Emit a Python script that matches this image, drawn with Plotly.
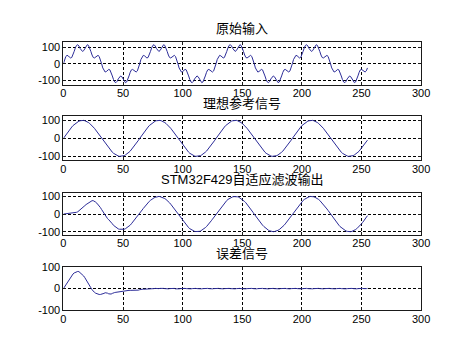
import plotly.graph_objects as go

# ---------------- data ----------------
titles = ["原始输入", "理想参考信号", "STM32F429自适应滤波输出", "误差信号"]
x_ticks = [0, 50, 100, 150, 200, 250, 300]
y_ticks = [-100, 0, 100]

original_input = [
    0, 26, 44, 51, 48, 40, 35, 38, 53, 75, 97, 112, 116, 108, 93, 80, 75,
    80, 93, 108, 116, 112, 97, 75, 53, 38, 35, 40, 48, 51, 44, 26,
    0, -26, -44, -51, -48, -40, -35, -38, -53, -75, -97, -112, -116, -108, -93, -80, -75,
    -80, -93, -108, -116, -112, -97, -75, -53, -38, -35, -40, -48, -51, -44, -26,
    0, 26, 44, 51, 48, 40, 35, 38, 53, 75, 97, 112, 116, 108, 93, 80, 75,
    80, 93, 108, 116, 112, 97, 75, 53, 38, 35, 40, 48, 51, 44, 26,
    0, -26, -44, -51, -48, -40, -35, -38, -53, -75, -97, -112, -116, -108, -93, -80, -75,
    -80, -93, -108, -116, -112, -97, -75, -53, -38, -35, -40, -48, -51, -44, -26,
    0, 26, 44, 51, 48, 40, 35, 38, 53, 75, 97, 112, 116, 108, 93, 80, 75,
    80, 93, 108, 116, 112, 97, 75, 53, 38, 35, 40, 48, 51, 44, 26,
    0, -26, -44, -51, -48, -40, -35, -38, -53, -75, -97, -112, -116, -108, -93, -80, -75,
    -80, -93, -108, -116, -112, -97, -75, -53, -38, -35, -40, -48, -51, -44, -26,
    0, 26, 44, 51, 48, 40, 35, 38, 53, 75, 97, 112, 116, 108, 93, 80, 75,
    80, 93, 108, 116, 112, 97, 75, 53, 38, 35, 40, 48, 51, 44, 26,
    0, -26, -44, -51, -48, -40, -35, -38, -53, -75, -97, -112, -116, -108, -93, -80, -75,
    -80, -93, -108, -116, -112, -97, -75, -53, -38, -35, -40, -48, -51, -44, -26,
]

ideal_reference = [
    0, 10, 20, 29, 38, 47, 56, 63, 71, 77, 83, 88, 92, 96, 98, 100,
    100, 100, 98, 96, 92, 88, 83, 77, 71, 63, 56, 47, 38, 29, 20, 10,
    0, -10, -20, -29, -38, -47, -56, -63, -71, -77, -83, -88, -92, -96, -98, -100,
    -100, -100, -98, -96, -92, -88, -83, -77, -71, -63, -56, -47, -38, -29, -20, -10,
    0, 10, 20, 29, 38, 47, 56, 63, 71, 77, 83, 88, 92, 96, 98, 100,
    100, 100, 98, 96, 92, 88, 83, 77, 71, 63, 56, 47, 38, 29, 20, 10,
    0, -10, -20, -29, -38, -47, -56, -63, -71, -77, -83, -88, -92, -96, -98, -100,
    -100, -100, -98, -96, -92, -88, -83, -77, -71, -63, -56, -47, -38, -29, -20, -10,
    0, 10, 20, 29, 38, 47, 56, 63, 71, 77, 83, 88, 92, 96, 98, 100,
    100, 100, 98, 96, 92, 88, 83, 77, 71, 63, 56, 47, 38, 29, 20, 10,
    0, -10, -20, -29, -38, -47, -56, -63, -71, -77, -83, -88, -92, -96, -98, -100,
    -100, -100, -98, -96, -92, -88, -83, -77, -71, -63, -56, -47, -38, -29, -20, -10,
    0, 10, 20, 29, 38, 47, 56, 63, 71, 77, 83, 88, 92, 96, 98, 100,
    100, 100, 98, 96, 92, 88, 83, 77, 71, 63, 56, 47, 38, 29, 20, 10,
    0, -10, -20, -29, -38, -47, -56, -63, -71, -77, -83, -88, -92, -96, -98, -100,
    -100, -100, -98, -96, -92, -88, -83, -77, -71, -63, -56, -47, -38, -29, -20, -10,
]

filter_output = [
    0, 1, 2, 2, 2, 2, 2, 3, 4, 5,
    8, 10, 13, 18, 24, 30, 36, 42, 48, 54,
    59, 64, 69, 73, 76, 76, 73, 68, 62, 55,
    47, 37, 26, 15, 2, -10, -19, -26, -32, -38,
    -46, -55, -64, -70, -75, -80, -84, -86, -87, -87,
    -87, -86, -83, -79, -74, -69, -63, -55, -47, -39,
    -30, -21, -12, -3, 5, 13, 23, 32, 41, 50,
    58, 66, 72, 78, 84, 88, 92, 95, 98, 99,
    100, 99, 97, 95, 91, 88, 83, 78, 71, 64, 56, 47, 38, 29, 20, 10,
    0, -10, -19, -29, -38, -47, -55, -63, -70, -77, -83, -88, -92, -95, -98, -99,
    -100, -99, -98, -96, -92, -88, -83, -77, -71, -64, -56, -47, -38, -29, -20, -10,
    0, 10, 20, 29, 38, 47, 55, 63, 70, 77, 83, 88, 92, 95, 98, 99,
    100, 99, 98, 96, 92, 88, 83, 77, 71, 64, 56, 47, 38, 29, 20, 10,
    0, -10, -19, -29, -38, -47, -55, -63, -70, -77, -83, -88, -92, -95, -98, -99,
    -100, -99, -98, -96, -92, -88, -83, -77, -71, -64, -56, -47, -38, -29, -20, -10,
    0, 10, 20, 29, 38, 47, 56, 63, 71, 77, 83, 88, 92, 96, 98, 100,
    100, 100, 98, 95, 92, 88, 83, 77, 70, 63, 56, 47, 38, 29, 20, 10,
    0, -10, -20, -29, -38, -47, -56, -63, -71, -77, -83, -88, -92, -96, -98, -100,
    -100, -100, -98, -96, -92, -88, -83, -77, -70, -63, -55, -47, -38, -29, -19, -9,
]

error_signal = [
    0, 9, 18, 27, 36, 45, 54, 60, 67, 72,
    75, 78, 79, 78, 74, 70, 64, 58, 50, 42,
    33, 24, 14, 4, -5, -13, -17, -21, -24, -26,
    -27, -27, -26, -25, -22, -19, -19, -21, -24, -25,
    -25, -22, -19, -18, -17, -16, -14, -14, -13, -13,
    -11, -10, -9, -9, -9, -8, -8, -8, -9, -8,
    -8, -8, -8, -7, -5, -3, -3, -3, -3, -3,
    -2, -3, -1, -1, -1, 0, 0, 1, 0, 1,
    0, 1, 2, 2, 1, 0, -1, -2, -1, 0, 1, 2, 2, 1, -1, -2,
    -2, -1, 0, 1, 2, 2, 1, 0, -1, -2, -2, -1, 0, 1, 2, 1,
    0, -1, -2, -2, -1, 0, 1, 2, 2, 1, 0, -1, -2, -1, 0, 1,
    2, 2, 1, 0, -1, -2, -1, 0, 1, 2, 2, 1, 0, -1, -2, -2,
    -1, 0, 1, 2, 1, 0, -1, -2, -2, -1, 0, 1, 2, 2, 1, 0,
    -1, -2, -1, 0, 1, 2, 2, 1, 0, -1, -2, -2, -1, 0, 1, 2,
    1, 0, -1, -2, -2, -1, 0, 1, 2, 2, 1, 0, -1, -2, -1, 0,
    1, 2, 2, 1, 0, -1, -2, -2, -1, 0, 1, 2, 1, 0, -1, -2,
    -2, -1, 0, 1, 2, 2, 1, 0, -1, -2, -1, 0, 1, 2, 2, 1,
    0, -1, -2, -2, -1, 0, 1, 2, 1, 0, -1, -2, -2, -1, 0, 1,
    2, 2, 1, 0, -1, -2, -1, 0, 1, 2, 2, 1, 0, -1, 0, 1,
]

series = [original_input, ideal_reference, filter_output, error_signal]
y_ranges = [[-130, 130], [-122, 122], [-117, 117], [-100, 100]]

# ---------------- layout (pixels of the 474x355 page) ----------------
W, H = 474, 355
X0, X1 = 62, 429
boxes = [(37.7, 81.7), (114.3, 159.7), (194.0, 236.7), (270.0, 315.0)]
title_y = [23.5, 101.0, 180.0, 256.5]

LINE = "#2c2c98"
FRAME = "#1a1a1a"
TICKFONT = dict(family="Liberation Sans, Arial, sans-serif", size=11, color="black")
TITLEFONT = dict(family="Liberation Sans, Noto Sans CJK SC, sans-serif", size=13, color="black")

fig = go.Figure()
layout = {}
for i, s in enumerate(series):
    k = "" if i == 0 else str(i + 1)
    fig.add_trace(go.Scatter(
        x=list(range(len(s))), y=s, mode="lines",
        line=dict(color=LINE, width=1),
        xaxis="x" + k, yaxis="y" + k, hoverinfo="skip",
    ))
    top, bot = boxes[i]
    common = dict(
        showline=True, mirror="ticks", linecolor=FRAME, linewidth=1,
        ticks="inside", ticklen=3, tickcolor=FRAME, tickwidth=1,
        showgrid=True, gridcolor="black", gridwidth=1, griddash="3px,2px",
        zeroline=False, tickfont=TICKFONT, fixedrange=True,
    )
    layout["xaxis" + k] = dict(
        domain=[X0 / W, X1 / W], range=[0, 300], tickmode="array",
        tickvals=x_ticks, ticktext=[str(v) for v in x_ticks],
        anchor="y" + k, ticklabelstandoff=-2, **common,
    )
    layout["yaxis" + k] = dict(
        domain=[1 - bot / H, 1 - top / H], range=y_ranges[i], tickmode="array",
        tickvals=y_ticks, ticktext=[str(v) for v in y_ticks],
        anchor="x" + k, **common,
    )

annotations = []
for i, t in enumerate(titles):
    annotations.append(dict(
        text=t, xref="paper", yref="paper",
        x=(X0 + X1) / 2 / W, y=1 - title_y[i] / H,
        xanchor="center", yanchor="middle", showarrow=False,
        font=TITLEFONT,
    ))

fig.update_layout(
    width=W, height=H, margin=dict(l=0, r=0, t=0, b=0),
    paper_bgcolor="white", plot_bgcolor="white", showlegend=False,
    annotations=annotations, **layout,
)

fig.write_html("out.html")
